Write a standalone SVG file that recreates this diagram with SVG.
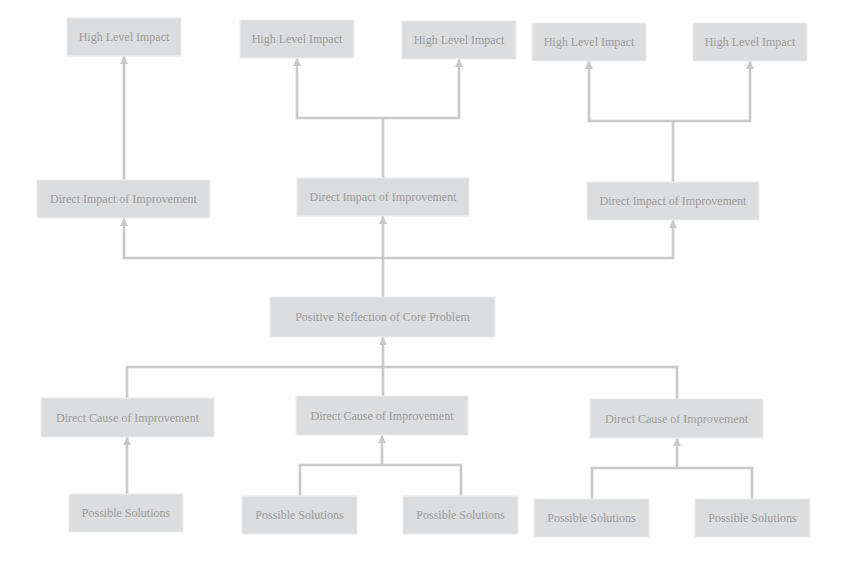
<svg xmlns="http://www.w3.org/2000/svg" width="846" height="576" viewBox="0 0 846 576">
<style>
.box{fill:#dcdddf;stroke:#eeeeee;stroke-width:1}
.lbl{font-family:"Liberation Serif","Times New Roman",serif;font-size:12px;fill:#9b9b9b;text-anchor:middle;dominant-baseline:central}
.con{fill:none;stroke:#c9c9c9;stroke-width:2.6}
</style>
<defs>
<marker id="ah" markerUnits="userSpaceOnUse" markerWidth="9" markerHeight="9" refX="8" refY="4" orient="auto">
<path d="M0,0 L8,4 L0,8 z" fill="#c9c9c9"/>
</marker>
</defs>
<rect width="846" height="576" fill="#ffffff"/>
<g id="connectors">
<path class="con" d="M124,180 V56" marker-end="url(#ah)"/>
<path class="con" d="M383,178 V118 H297 V58" marker-end="url(#ah)"/>
<path class="con" d="M383,118 H459 V59" marker-end="url(#ah)"/>
<path class="con" d="M673,182 V121 H589 V61" marker-end="url(#ah)"/>
<path class="con" d="M673,121 H750 V61" marker-end="url(#ah)"/>
<path class="con" d="M383,297 V258 H124 V218" marker-end="url(#ah)"/>
<path class="con" d="M383,258 V216" marker-end="url(#ah)"/>
<path class="con" d="M383,258 H673 V220" marker-end="url(#ah)"/>
<path class="con" d="M127,398 V367 H677 V399"/>
<path class="con" d="M383,396 V337" marker-end="url(#ah)"/>
<path class="con" d="M127,494 V437" marker-end="url(#ah)"/>
<path class="con" d="M300,496 V465 H461 V496"/>
<path class="con" d="M382,465 V435" marker-end="url(#ah)"/>
<path class="con" d="M592,499 V468 H752 V499"/>
<path class="con" d="M677,468 V438" marker-end="url(#ah)"/>
</g>
<g id="hli1"><rect class="box" x="67" y="18" width="114" height="38"/><text class="lbl" x="124" y="37">High Level Impact</text></g>
<g id="hli2"><rect class="box" x="240" y="20" width="114" height="38"/><text class="lbl" x="297" y="39">High Level Impact</text></g>
<g id="hli3"><rect class="box" x="402" y="21" width="114" height="38"/><text class="lbl" x="459" y="40">High Level Impact</text></g>
<g id="hli4"><rect class="box" x="532" y="23" width="114" height="38"/><text class="lbl" x="589" y="42">High Level Impact</text></g>
<g id="hli5"><rect class="box" x="693" y="23" width="114" height="38"/><text class="lbl" x="750" y="42">High Level Impact</text></g>
<g id="dii1"><rect class="box" x="37" y="180" width="173" height="38"/><text class="lbl" x="123.5" y="199">Direct Impact of Improvement</text></g>
<g id="dii2"><rect class="box" x="297" y="178" width="172" height="38"/><text class="lbl" x="383" y="197">Direct Impact of Improvement</text></g>
<g id="dii3"><rect class="box" x="587" y="182" width="172" height="38"/><text class="lbl" x="673" y="201">Direct Impact of Improvement</text></g>
<g id="core"><rect class="box" x="270" y="297" width="225" height="40"/><text class="lbl" x="382.5" y="317">Positive Reflection of Core Problem</text></g>
<g id="dci1"><rect class="box" x="41" y="398" width="173" height="39"/><text class="lbl" x="127.5" y="417.5">Direct Cause of Improvement</text></g>
<g id="dci2"><rect class="box" x="296" y="396" width="172" height="39"/><text class="lbl" x="382" y="415.5">Direct Cause of Improvement</text></g>
<g id="dci3"><rect class="box" x="590" y="399" width="173" height="39"/><text class="lbl" x="676.5" y="418.5">Direct Cause of Improvement</text></g>
<g id="ps1"><rect class="box" x="69" y="494" width="114" height="38"/><text class="lbl" x="126" y="513">Possible Solutions</text></g>
<g id="ps2"><rect class="box" x="242" y="496" width="115" height="38"/><text class="lbl" x="299.5" y="515">Possible Solutions</text></g>
<g id="ps3"><rect class="box" x="403" y="496" width="115" height="38"/><text class="lbl" x="460.5" y="515">Possible Solutions</text></g>
<g id="ps4"><rect class="box" x="534" y="499" width="115" height="38"/><text class="lbl" x="591.5" y="518">Possible Solutions</text></g>
<g id="ps5"><rect class="box" x="695" y="499" width="115" height="38"/><text class="lbl" x="752.5" y="518">Possible Solutions</text></g>
</svg>
